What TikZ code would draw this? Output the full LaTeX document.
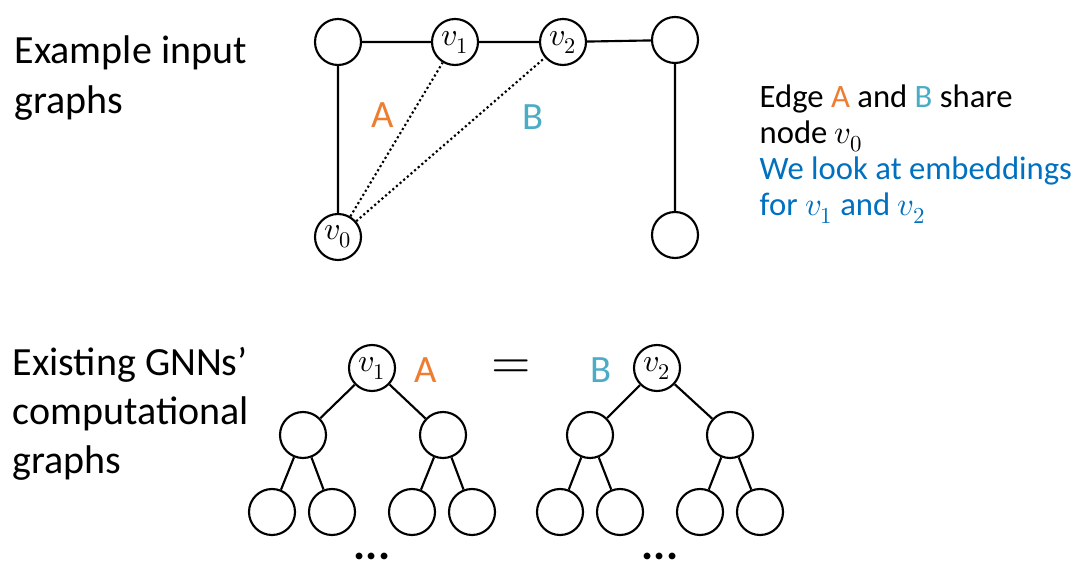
\documentclass[tikz,border=0pt]{standalone}
\usepackage{fontspec}
\setmainfont{Carlito}
\usepackage{unicode-math}
\setmathfont{Latin Modern Math}
\definecolor{orA}{RGB}{237,125,49}
\definecolor{blB}{RGB}{75,172,198}
\definecolor{blT}{RGB}{0,112,192}
\begin{document}
\begin{tikzpicture}[x=0.75pt,y=-0.75pt,
  nd/.style={circle,draw,line width=1.6pt,minimum size=34.5pt,inner sep=0pt,font=\fontsize{24}{24}\selectfont},
  ed/.style={line width=1.6pt},
  dt/.style={line width=1.6pt,dotted},
  big/.style={font=\fontsize{30}{37}\selectfont,align=left,anchor=west},
  lab/.style={font=\fontsize{29}{29}\selectfont}]
\useasboundingbox (0,0) rectangle (1080,573);
\node[big] (t1) at (10,78) {Example input\\graphs};
\node[big] (t2) at (8,414) {Existing GNNs’\\computational\\graphs};
% top graph
\node[nd] (a) at (338,42) {};
\node[nd] (v1) at (455,42) {$v_1$};
\node[nd] (v2) at (563,42) {$v_2$};
\node[nd] (d) at (675,40) {};
\node[nd] (v0) at (338,237) {$v_0$};
\node[nd] (e) at (675,235) {};
\draw[ed] (a)--(v1) (v1)--(v2) (v2)--(d) (a)--(v0) (d)--(e);
\draw[dt] (v0)--(v1) (v0)--(v2);
\node[lab,text=orA] (A) at (383,115) {A};
\node[lab,text=blB] (B) at (533,117) {B};
\node[font=\fontsize{24.5}{27}\selectfont,align=left,anchor=north west] (r) at (755,80)
 {Edge {\color{orA}A} and {\color{blB}B} share\\node $v_0$\\{\color{blT}We look at embeddings}\\{\color{blT}for $v_1$ and $v_2$}};
% left tree
\node[nd] (l0) at (372,368) {$v_1$};
\node[nd] (l1) at (303,435) {};
\node[nd] (l2) at (443,435) {};
\node[nd] (l3) at (272,512) {};
\node[nd] (l4) at (332,512) {};
\node[nd] (l5) at (412,512) {};
\node[nd] (l6) at (472,512) {};
\draw[ed] (l0)--(l1) (l0)--(l2) (l1)--(l3) (l1)--(l4) (l2)--(l5) (l2)--(l6);
% right tree
\node[nd] (m0) at (657,368) {$v_2$};
\node[nd] (m1) at (590,435) {};
\node[nd] (m2) at (730,435) {};
\node[nd] (m3) at (560,512) {};
\node[nd] (m4) at (620,512) {};
\node[nd] (m5) at (700,512) {};
\node[nd] (m6) at (760,512) {};
\draw[ed] (m0)--(m1) (m0)--(m2) (m1)--(m3) (m1)--(m4) (m2)--(m5) (m2)--(m6);
\node[lab,text=orA] (A2) at (426,370) {A};
\node[lab,text=blB] (B2) at (601,370) {B};
\node[font=\fontsize{38}{38}\selectfont] (eq) at (511,369) {$=$};
\node[font=\fontsize{34}{34}\selectfont,anchor=north] (dl) at (372,548) {\textbf{...}};
\node[font=\fontsize{34}{34}\selectfont,anchor=north] (dr) at (660,548) {\textbf{...}};
\end{tikzpicture}
\end{document}
